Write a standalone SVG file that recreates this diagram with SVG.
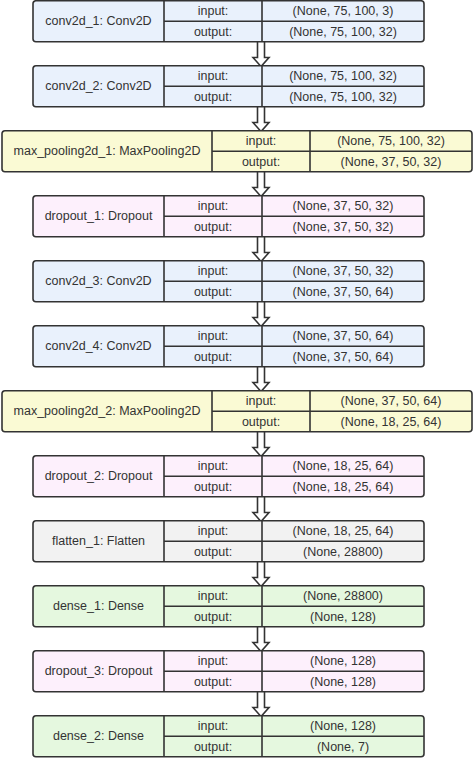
<svg xmlns="http://www.w3.org/2000/svg" width="474" height="758" viewBox="0 0 474 758">
<style>
text{font-family:"Liberation Sans",Arial,sans-serif;font-size:12.5px;fill:#333;text-anchor:middle;dominant-baseline:central}
.box{stroke:#333;stroke-width:1.6}
.ln{stroke:#333;stroke-width:1.6;fill:none}
.conv{fill:#e9f1fc}.pool{fill:#fafad4}.drop{fill:#fdf0fc}.flat{fill:#f2f2f2}.dense{fill:#e5f8df}
.arr{fill:#fff;stroke:#333;stroke-width:1.6;stroke-linejoin:miter}
</style>
<rect width="474" height="758" fill="#fff"/>
<g id="connectors">
<path class="arr" d="M257.5,41.75 V57.5 H253 L261,66.5 L269,57.5 H264.5 V41.75"/>
<path class="arr" d="M257.5,106.75 V122.5 H253 L261,131.5 L269,122.5 H264.5 V106.75"/>
<path class="arr" d="M257.5,171.75 V187.5 H253 L261,196.5 L269,187.5 H264.5 V171.75"/>
<path class="arr" d="M257.5,236.75 V252.5 H253 L261,261.5 L269,252.5 H264.5 V236.75"/>
<path class="arr" d="M257.5,301.75 V317.5 H253 L261,326.5 L269,317.5 H264.5 V301.75"/>
<path class="arr" d="M257.5,366.75 V382.5 H253 L261,391.5 L269,382.5 H264.5 V366.75"/>
<path class="arr" d="M257.5,431.75 V447.5 H253 L261,456.5 L269,447.5 H264.5 V431.75"/>
<path class="arr" d="M257.5,496.75 V512.5 H253 L261,521.5 L269,512.5 H264.5 V496.75"/>
<path class="arr" d="M257.5,561.75 V577.5 H253 L261,586.5 L269,577.5 H264.5 V561.75"/>
<path class="arr" d="M257.5,626.75 V642.5 H253 L261,651.5 L269,642.5 H264.5 V626.75"/>
<path class="arr" d="M257.5,691.75 V707.5 H253 L261,716.5 L269,707.5 H264.5 V691.75"/>
</g>
<g id="conv2d_1" transform="translate(0,0.75)">
<rect class="box conv" x="33" y="0" width="391" height="41" rx="3"/>
<path class="ln" d="M164,0 V41 M262,0 V41 M164,20.5 H424"/>
<text x="98.5" y="20.5">conv2d_1: Conv2D</text><text x="213" y="10.5">input:</text><text x="213" y="31">output:</text>
<text x="343" y="10.5">(None, 75, 100, 3)</text><text x="343" y="31">(None, 75, 100, 32)</text>
</g>
<g id="conv2d_2" transform="translate(0,65.75)">
<rect class="box conv" x="33" y="0" width="391" height="41" rx="3"/>
<path class="ln" d="M164,0 V41 M262,0 V41 M164,20.5 H424"/>
<text x="98.5" y="20.5">conv2d_2: Conv2D</text><text x="213" y="10.5">input:</text><text x="213" y="31">output:</text>
<text x="343" y="10.5">(None, 75, 100, 32)</text><text x="343" y="31">(None, 75, 100, 32)</text>
</g>
<g id="max_pooling2d_1" transform="translate(0,130.75)">
<rect class="box pool" x="2" y="0" width="470" height="41" rx="3"/>
<path class="ln" d="M212,0 V41 M310,0 V41 M212,20.5 H472"/>
<text x="107" y="20.5">max_pooling2d_1: MaxPooling2D</text><text x="261" y="10.5">input:</text><text x="261" y="31">output:</text>
<text x="391" y="10.5">(None, 75, 100, 32)</text><text x="391" y="31">(None, 37, 50, 32)</text>
</g>
<g id="dropout_1" transform="translate(0,195.75)">
<rect class="box drop" x="33" y="0" width="391" height="41" rx="3"/>
<path class="ln" d="M164,0 V41 M262,0 V41 M164,20.5 H424"/>
<text x="98.5" y="20.5">dropout_1: Dropout</text><text x="213" y="10.5">input:</text><text x="213" y="31">output:</text>
<text x="343" y="10.5">(None, 37, 50, 32)</text><text x="343" y="31">(None, 37, 50, 32)</text>
</g>
<g id="conv2d_3" transform="translate(0,260.75)">
<rect class="box conv" x="33" y="0" width="391" height="41" rx="3"/>
<path class="ln" d="M164,0 V41 M262,0 V41 M164,20.5 H424"/>
<text x="98.5" y="20.5">conv2d_3: Conv2D</text><text x="213" y="10.5">input:</text><text x="213" y="31">output:</text>
<text x="343" y="10.5">(None, 37, 50, 32)</text><text x="343" y="31">(None, 37, 50, 64)</text>
</g>
<g id="conv2d_4" transform="translate(0,325.75)">
<rect class="box conv" x="33" y="0" width="391" height="41" rx="3"/>
<path class="ln" d="M164,0 V41 M262,0 V41 M164,20.5 H424"/>
<text x="98.5" y="20.5">conv2d_4: Conv2D</text><text x="213" y="10.5">input:</text><text x="213" y="31">output:</text>
<text x="343" y="10.5">(None, 37, 50, 64)</text><text x="343" y="31">(None, 37, 50, 64)</text>
</g>
<g id="max_pooling2d_2" transform="translate(0,390.75)">
<rect class="box pool" x="2" y="0" width="470" height="41" rx="3"/>
<path class="ln" d="M212,0 V41 M310,0 V41 M212,20.5 H472"/>
<text x="107" y="20.5">max_pooling2d_2: MaxPooling2D</text><text x="261" y="10.5">input:</text><text x="261" y="31">output:</text>
<text x="391" y="10.5">(None, 37, 50, 64)</text><text x="391" y="31">(None, 18, 25, 64)</text>
</g>
<g id="dropout_2" transform="translate(0,455.75)">
<rect class="box drop" x="33" y="0" width="391" height="41" rx="3"/>
<path class="ln" d="M164,0 V41 M262,0 V41 M164,20.5 H424"/>
<text x="98.5" y="20.5">dropout_2: Dropout</text><text x="213" y="10.5">input:</text><text x="213" y="31">output:</text>
<text x="343" y="10.5">(None, 18, 25, 64)</text><text x="343" y="31">(None, 18, 25, 64)</text>
</g>
<g id="flatten_1" transform="translate(0,520.75)">
<rect class="box flat" x="33" y="0" width="391" height="41" rx="3"/>
<path class="ln" d="M164,0 V41 M262,0 V41 M164,20.5 H424"/>
<text x="98.5" y="20.5">flatten_1: Flatten</text><text x="213" y="10.5">input:</text><text x="213" y="31">output:</text>
<text x="343" y="10.5">(None, 18, 25, 64)</text><text x="343" y="31">(None, 28800)</text>
</g>
<g id="dense_1" transform="translate(0,585.75)">
<rect class="box dense" x="33" y="0" width="391" height="41" rx="3"/>
<path class="ln" d="M164,0 V41 M262,0 V41 M164,20.5 H424"/>
<text x="98.5" y="20.5">dense_1: Dense</text><text x="213" y="10.5">input:</text><text x="213" y="31">output:</text>
<text x="343" y="10.5">(None, 28800)</text><text x="343" y="31">(None, 128)</text>
</g>
<g id="dropout_3" transform="translate(0,650.75)">
<rect class="box drop" x="33" y="0" width="391" height="41" rx="3"/>
<path class="ln" d="M164,0 V41 M262,0 V41 M164,20.5 H424"/>
<text x="98.5" y="20.5">dropout_3: Dropout</text><text x="213" y="10.5">input:</text><text x="213" y="31">output:</text>
<text x="343" y="10.5">(None, 128)</text><text x="343" y="31">(None, 128)</text>
</g>
<g id="dense_2" transform="translate(0,715.75)">
<rect class="box dense" x="33" y="0" width="391" height="41" rx="3"/>
<path class="ln" d="M164,0 V41 M262,0 V41 M164,20.5 H424"/>
<text x="98.5" y="20.5">dense_2: Dense</text><text x="213" y="10.5">input:</text><text x="213" y="31">output:</text>
<text x="343" y="10.5">(None, 128)</text><text x="343" y="31">(None, 7)</text>
</g>
</svg>
